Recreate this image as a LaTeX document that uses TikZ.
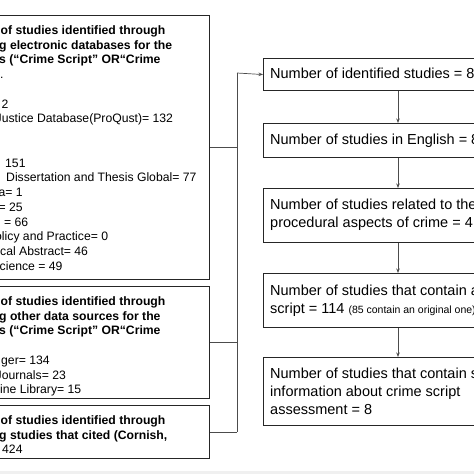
\documentclass[tikz,border=0pt]{standalone}
\usepackage{fontspec}
\setmainfont{Liberation Sans}
\usetikzlibrary{arrows.meta}

\tikzset{
  box/.style={draw=black!85, line width=1.1pt, inner sep=0pt},
  link/.style={draw=black!70, line width=0.7pt},
  srctext/.style={align=left, inner sep=0pt, anchor=base west,
    font=\fontsize{12.2}{14.75}\selectfont},
  stagetext/.style={align=left, inner sep=0pt, anchor=base west,
    font=\fontsize{14.5}{17.8}\selectfont},
}

\begin{document}
\begin{tikzpicture}[x=1pt,y=-1pt,>={Stealth[length=4.5pt,width=3.5pt]}]
    \useasboundingbox (0,0) rectangle (474,474);
    \clip (0,0) rectangle (474,474);
    % ---- sources (left column) ----
    \node[box,anchor=north east,minimum width=320,minimum height=264] (srcdb) at (210,15) {};
    \node[box,anchor=north east,minimum width=320,minimum height=112] (srcother) at (210,286) {};
    \node[box,anchor=north east,minimum width=320,minimum height=53] (srccite) at (210,405) {};
    % text nodes sit on the baseline of their last line
    \node[srctext] (srcdbtxt) at (-5,270.3) {%
      \hspace*{5.5pt}\bfseries of studies identified through\\
      \hspace*{4pt}\bfseries g electronic databases for the\\
      \hspace*{4pt}\bfseries s (“Crime Script” OR“Crime\\
      \hspace*{5pt}.\\
      \mbox{}\\
      \hspace*{6.5pt}2\\
      \hspace*{0.5pt}Justice Database(ProQust)= 132\\
      \mbox{}\\
      \mbox{}\\
      \hspace*{10pt}151\\
      \hspace*{11pt}Dissertation and Thesis Global= 77\\
      \hspace*{3.5pt}a= 1\\
      \hspace*{3.5pt}= 25\\
      \hspace*{9pt}= 66\\
      \hspace*{0pt}olicy and Practice= 0\\
      \hspace*{5pt}cal Abstract= 46\\
      \hspace*{4.5pt}cience = 49};
    \node[srctext] (srcothertxt) at (-5,393.8) {%
      \hspace*{5.5pt}\bfseries of studies identified through\\
      \hspace*{4pt}\bfseries g other data sources for the\\
      \hspace*{4pt}\bfseries s (“Crime Script” OR“Crime\\
      \mbox{}\\
      \hspace*{6pt}ger= 134\\
      \hspace*{0.5pt}Journals= 23\\
      \hspace*{5pt}ine Library= 15};
    \node[srctext] (srccitetxt) at (-5,453.8) {%
      \hspace*{5.5pt}\bfseries of studies identified through\\
      \hspace*{4pt}\bfseries g studies that cited (Cornish,\\
      \hspace*{7pt}424};
    % ---- screening stages (right column) ----
    \node[box,anchor=north west,minimum width=300,minimum height=32] (ident) at (263,58) {};
    \node[box,anchor=north west,minimum width=300,minimum height=34] (english) at (263,123) {};
    \node[box,anchor=north west,minimum width=300,minimum height=54] (proced) at (263,188) {};
    \node[box,anchor=north west,minimum width=300,minimum height=54] (script) at (263,273) {};
    \node[box,anchor=north west,minimum width=300,minimum height=68] (assess) at (263,357) {};
    \node[stagetext] (identtxt) at (270,78.2) {Number of identified studies = 8};
    \node[stagetext] (englishtxt) at (270,144.7) {Number of studies in English = 8};
    \node[stagetext] (procedtxt) at (270,227)
      {Number of studies related to the\\ procedural aspects of crime = 4};
    \node[stagetext] (scripttxt) at (270,313)
      {Number of studies that contain a\\ script = 114 {\fontsize{10.5}{12}\selectfont (85 contain an original one)}};
    \node[stagetext] (assesstxt) at (270,414)
      {Number of studies that contain s\\ information about crime script\\ assessment = 8};
    % ---- connectors ----
    \coordinate (bus) at (237,73);
    \coordinate (spine) at (398,0);
    \draw[link] (srcdb.east) -- (srcdb.east -| bus);
    \draw[link] (srcother.east) -- (srcother.east -| bus);
    \draw[link] (srccite.east) -- (srccite.east -| bus);
    \draw[link] (srccite.east -| bus) -- (bus);
    \draw[link,->] (bus) -- (ident.west);
    \draw[link,->] (ident.south -| spine) -- (english.north -| spine);
    \draw[link,->] (english.south -| spine) -- (proced.north -| spine);
    \draw[link,->] (proced.south -| spine) -- (script.north -| spine);
    \draw[link,->] (script.south -| spine) -- (assess.north -| spine);
    % ---- bottom band ----
    \fill[gray!12] (0,471) rectangle (474,474);
\end{tikzpicture}
\end{document}
